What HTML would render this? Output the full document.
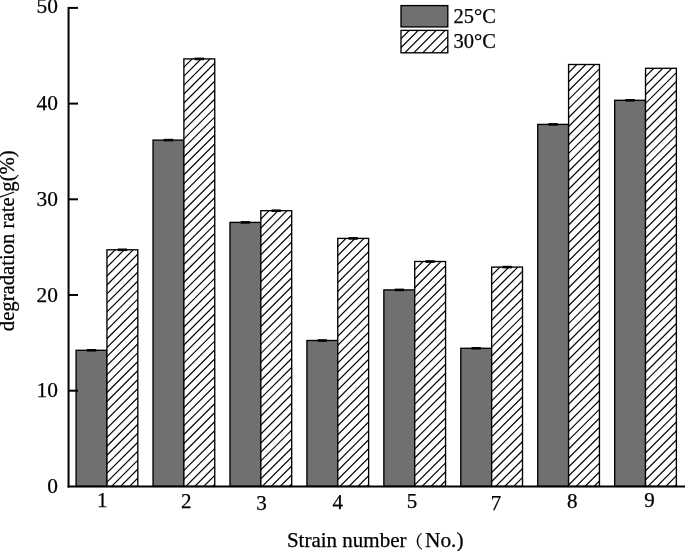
<!DOCTYPE html>
<html><head><meta charset="utf-8"><title>Degradation rate by strain</title>
<style>
html,body{margin:0;padding:0;background:#fff;}
body{width:685px;height:551px;overflow:hidden;}
svg{display:block;}
text{font-family:"Liberation Serif","Noto Serif CJK SC",serif;font-size:21px;fill:#000;}
.lg{font-size:20.5px;}
.yt{font-size:21.4px;}
text{stroke:#000;stroke-width:0.25px;}
</style></head><body>
<svg width="685" height="551" viewBox="0 0 685 551">
<rect x="0" y="0" width="685" height="551" fill="#fff"/>

<rect x="76.10" y="350.30" width="30.85" height="136.10" fill="#707070" stroke="#000" stroke-width="1.35"/>
<rect x="106.95" y="249.80" width="30.85" height="236.60" fill="#fff" stroke="none"/>
<clipPath id="c0"><rect x="106.95" y="249.80" width="30.85" height="236.60"/></clipPath><g clip-path="url(#c0)" stroke="#000" stroke-width="1.2" fill="none"><path d="M105.95 259.10L116.25 248.80M105.95 268.06L125.21 248.80M105.95 277.02L134.17 248.80M105.95 285.98L143.13 248.80M105.95 294.94L152.09 248.80M105.95 303.90L161.05 248.80M105.95 312.86L170.01 248.80M105.95 321.82L178.97 248.80M105.95 330.78L187.93 248.80M105.95 339.74L196.89 248.80M105.95 348.70L205.85 248.80M105.95 357.66L214.81 248.80M105.95 366.62L223.77 248.80M105.95 375.58L232.73 248.80M105.95 384.54L241.69 248.80M105.95 393.50L250.65 248.80M105.95 402.46L259.61 248.80M105.95 411.42L268.57 248.80M105.95 420.38L277.53 248.80M105.95 429.34L286.49 248.80M105.95 438.30L295.45 248.80M105.95 447.26L304.41 248.80M105.95 456.22L313.37 248.80M105.95 465.18L322.33 248.80M105.95 474.14L331.29 248.80M105.95 483.10L340.25 248.80M105.95 492.06L349.21 248.80M105.95 501.02L358.17 248.80M105.95 509.98L367.13 248.80M105.95 518.94L376.09 248.80M105.95 527.90L385.05 248.80"/></g>
<rect x="106.95" y="249.80" width="30.85" height="236.60" fill="none" stroke="#000" stroke-width="1.35"/>
<line x1="86.82" y1="350.30" x2="96.22" y2="350.30" stroke="#000" stroke-width="2.6"/>
<line x1="117.67" y1="249.80" x2="127.07" y2="249.80" stroke="#000" stroke-width="2.6"/>
<rect x="153.04" y="140.10" width="30.85" height="346.30" fill="#707070" stroke="#000" stroke-width="1.35"/>
<rect x="183.89" y="58.90" width="30.85" height="427.50" fill="#fff" stroke="none"/>
<clipPath id="c1"><rect x="183.89" y="58.90" width="30.85" height="427.50"/></clipPath><g clip-path="url(#c1)" stroke="#000" stroke-width="1.2" fill="none"><path d="M182.89 68.20L193.19 57.90M182.89 77.16L202.15 57.90M182.89 86.12L211.11 57.90M182.89 95.08L220.07 57.90M182.89 104.04L229.03 57.90M182.89 113.00L237.99 57.90M182.89 121.96L246.95 57.90M182.89 130.92L255.91 57.90M182.89 139.88L264.87 57.90M182.89 148.84L273.83 57.90M182.89 157.80L282.79 57.90M182.89 166.76L291.75 57.90M182.89 175.72L300.71 57.90M182.89 184.68L309.67 57.90M182.89 193.64L318.63 57.90M182.89 202.60L327.59 57.90M182.89 211.56L336.55 57.90M182.89 220.52L345.51 57.90M182.89 229.48L354.47 57.90M182.89 238.44L363.43 57.90M182.89 247.40L372.39 57.90M182.89 256.36L381.35 57.90M182.89 265.32L390.31 57.90M182.89 274.28L399.27 57.90M182.89 283.24L408.23 57.90M182.89 292.20L417.19 57.90M182.89 301.16L426.15 57.90M182.89 310.12L435.11 57.90M182.89 319.08L444.07 57.90M182.89 328.04L453.03 57.90M182.89 337.00L461.99 57.90M182.89 345.96L470.95 57.90M182.89 354.92L479.91 57.90M182.89 363.88L488.87 57.90M182.89 372.84L497.83 57.90M182.89 381.80L506.79 57.90M182.89 390.76L515.75 57.90M182.89 399.72L524.71 57.90M182.89 408.68L533.67 57.90M182.89 417.64L542.63 57.90M182.89 426.60L551.59 57.90M182.89 435.56L560.55 57.90M182.89 444.52L569.51 57.90M182.89 453.48L578.47 57.90M182.89 462.44L587.43 57.90M182.89 471.40L596.39 57.90M182.89 480.36L605.35 57.90M182.89 489.32L614.31 57.90M182.89 498.28L623.27 57.90M182.89 507.24L632.23 57.90M182.89 516.20L641.19 57.90M182.89 525.16L650.15 57.90"/></g>
<rect x="183.89" y="58.90" width="30.85" height="427.50" fill="none" stroke="#000" stroke-width="1.35"/>
<line x1="163.77" y1="140.10" x2="173.16" y2="140.10" stroke="#000" stroke-width="2.6"/>
<line x1="194.62" y1="58.90" x2="204.01" y2="58.90" stroke="#000" stroke-width="2.6"/>
<rect x="229.98" y="222.40" width="30.85" height="264.00" fill="#707070" stroke="#000" stroke-width="1.35"/>
<rect x="260.83" y="210.70" width="30.85" height="275.70" fill="#fff" stroke="none"/>
<clipPath id="c2"><rect x="260.83" y="210.70" width="30.85" height="275.70"/></clipPath><g clip-path="url(#c2)" stroke="#000" stroke-width="1.2" fill="none"><path d="M259.83 220.00L270.13 209.70M259.83 228.96L279.09 209.70M259.83 237.92L288.05 209.70M259.83 246.88L297.01 209.70M259.83 255.84L305.97 209.70M259.83 264.80L314.93 209.70M259.83 273.76L323.89 209.70M259.83 282.72L332.85 209.70M259.83 291.68L341.81 209.70M259.83 300.64L350.77 209.70M259.83 309.60L359.73 209.70M259.83 318.56L368.69 209.70M259.83 327.52L377.65 209.70M259.83 336.48L386.61 209.70M259.83 345.44L395.57 209.70M259.83 354.40L404.53 209.70M259.83 363.36L413.49 209.70M259.83 372.32L422.45 209.70M259.83 381.28L431.41 209.70M259.83 390.24L440.37 209.70M259.83 399.20L449.33 209.70M259.83 408.16L458.29 209.70M259.83 417.12L467.25 209.70M259.83 426.08L476.21 209.70M259.83 435.04L485.17 209.70M259.83 444.00L494.13 209.70M259.83 452.96L503.09 209.70M259.83 461.92L512.05 209.70M259.83 470.88L521.01 209.70M259.83 479.84L529.97 209.70M259.83 488.80L538.93 209.70M259.83 497.76L547.89 209.70M259.83 506.72L556.85 209.70M259.83 515.68L565.81 209.70M259.83 524.64L574.77 209.70"/></g>
<rect x="260.83" y="210.70" width="30.85" height="275.70" fill="none" stroke="#000" stroke-width="1.35"/>
<line x1="240.71" y1="222.40" x2="250.10" y2="222.40" stroke="#000" stroke-width="2.6"/>
<line x1="271.56" y1="210.70" x2="280.95" y2="210.70" stroke="#000" stroke-width="2.6"/>
<rect x="306.92" y="340.50" width="30.85" height="145.90" fill="#707070" stroke="#000" stroke-width="1.35"/>
<rect x="337.77" y="238.40" width="30.85" height="248.00" fill="#fff" stroke="none"/>
<clipPath id="c3"><rect x="337.77" y="238.40" width="30.85" height="248.00"/></clipPath><g clip-path="url(#c3)" stroke="#000" stroke-width="1.2" fill="none"><path d="M336.77 247.70L347.07 237.40M336.77 256.66L356.03 237.40M336.77 265.62L364.99 237.40M336.77 274.58L373.95 237.40M336.77 283.54L382.91 237.40M336.77 292.50L391.87 237.40M336.77 301.46L400.83 237.40M336.77 310.42L409.79 237.40M336.77 319.38L418.75 237.40M336.77 328.34L427.71 237.40M336.77 337.30L436.67 237.40M336.77 346.26L445.63 237.40M336.77 355.22L454.59 237.40M336.77 364.18L463.55 237.40M336.77 373.14L472.51 237.40M336.77 382.10L481.47 237.40M336.77 391.06L490.43 237.40M336.77 400.02L499.39 237.40M336.77 408.98L508.35 237.40M336.77 417.94L517.31 237.40M336.77 426.90L526.27 237.40M336.77 435.86L535.23 237.40M336.77 444.82L544.19 237.40M336.77 453.78L553.15 237.40M336.77 462.74L562.11 237.40M336.77 471.70L571.07 237.40M336.77 480.66L580.03 237.40M336.77 489.62L588.99 237.40M336.77 498.58L597.95 237.40M336.77 507.54L606.91 237.40M336.77 516.50L615.87 237.40M336.77 525.46L624.83 237.40"/></g>
<rect x="337.77" y="238.40" width="30.85" height="248.00" fill="none" stroke="#000" stroke-width="1.35"/>
<line x1="317.64" y1="340.50" x2="327.04" y2="340.50" stroke="#000" stroke-width="2.6"/>
<line x1="348.50" y1="238.40" x2="357.89" y2="238.40" stroke="#000" stroke-width="2.6"/>
<rect x="383.86" y="289.90" width="30.85" height="196.50" fill="#707070" stroke="#000" stroke-width="1.35"/>
<rect x="414.71" y="261.50" width="30.85" height="224.90" fill="#fff" stroke="none"/>
<clipPath id="c4"><rect x="414.71" y="261.50" width="30.85" height="224.90"/></clipPath><g clip-path="url(#c4)" stroke="#000" stroke-width="1.2" fill="none"><path d="M413.71 270.80L424.01 260.50M413.71 279.76L432.97 260.50M413.71 288.72L441.93 260.50M413.71 297.68L450.89 260.50M413.71 306.64L459.85 260.50M413.71 315.60L468.81 260.50M413.71 324.56L477.77 260.50M413.71 333.52L486.73 260.50M413.71 342.48L495.69 260.50M413.71 351.44L504.65 260.50M413.71 360.40L513.61 260.50M413.71 369.36L522.57 260.50M413.71 378.32L531.53 260.50M413.71 387.28L540.49 260.50M413.71 396.24L549.45 260.50M413.71 405.20L558.41 260.50M413.71 414.16L567.37 260.50M413.71 423.12L576.33 260.50M413.71 432.08L585.29 260.50M413.71 441.04L594.25 260.50M413.71 450.00L603.21 260.50M413.71 458.96L612.17 260.50M413.71 467.92L621.13 260.50M413.71 476.88L630.09 260.50M413.71 485.84L639.05 260.50M413.71 494.80L648.01 260.50M413.71 503.76L656.97 260.50M413.71 512.72L665.93 260.50M413.71 521.68L674.89 260.50"/></g>
<rect x="414.71" y="261.50" width="30.85" height="224.90" fill="none" stroke="#000" stroke-width="1.35"/>
<line x1="394.59" y1="289.90" x2="403.99" y2="289.90" stroke="#000" stroke-width="2.6"/>
<line x1="425.44" y1="261.50" x2="434.84" y2="261.50" stroke="#000" stroke-width="2.6"/>
<rect x="460.80" y="348.30" width="30.85" height="138.10" fill="#707070" stroke="#000" stroke-width="1.35"/>
<rect x="491.65" y="267.10" width="30.85" height="219.30" fill="#fff" stroke="none"/>
<clipPath id="c5"><rect x="491.65" y="267.10" width="30.85" height="219.30"/></clipPath><g clip-path="url(#c5)" stroke="#000" stroke-width="1.2" fill="none"><path d="M490.65 276.40L500.95 266.10M490.65 285.36L509.91 266.10M490.65 294.32L518.87 266.10M490.65 303.28L527.83 266.10M490.65 312.24L536.79 266.10M490.65 321.20L545.75 266.10M490.65 330.16L554.71 266.10M490.65 339.12L563.67 266.10M490.65 348.08L572.63 266.10M490.65 357.04L581.59 266.10M490.65 366.00L590.55 266.10M490.65 374.96L599.51 266.10M490.65 383.92L608.47 266.10M490.65 392.88L617.43 266.10M490.65 401.84L626.39 266.10M490.65 410.80L635.35 266.10M490.65 419.76L644.31 266.10M490.65 428.72L653.27 266.10M490.65 437.68L662.23 266.10M490.65 446.64L671.19 266.10M490.65 455.60L680.15 266.10M490.65 464.56L689.11 266.10M490.65 473.52L698.07 266.10M490.65 482.48L707.03 266.10M490.65 491.44L715.99 266.10M490.65 500.40L724.95 266.10M490.65 509.36L733.91 266.10M490.65 518.32L742.87 266.10M490.65 527.28L751.83 266.10"/></g>
<rect x="491.65" y="267.10" width="30.85" height="219.30" fill="none" stroke="#000" stroke-width="1.35"/>
<line x1="471.52" y1="348.30" x2="480.92" y2="348.30" stroke="#000" stroke-width="2.6"/>
<line x1="502.38" y1="267.10" x2="511.77" y2="267.10" stroke="#000" stroke-width="2.6"/>
<rect x="537.74" y="124.40" width="30.85" height="362.00" fill="#707070" stroke="#000" stroke-width="1.35"/>
<rect x="568.59" y="64.50" width="30.85" height="421.90" fill="#fff" stroke="none"/>
<clipPath id="c6"><rect x="568.59" y="64.50" width="30.85" height="421.90"/></clipPath><g clip-path="url(#c6)" stroke="#000" stroke-width="1.2" fill="none"><path d="M567.59 73.80L577.89 63.50M567.59 82.76L586.85 63.50M567.59 91.72L595.81 63.50M567.59 100.68L604.77 63.50M567.59 109.64L613.73 63.50M567.59 118.60L622.69 63.50M567.59 127.56L631.65 63.50M567.59 136.52L640.61 63.50M567.59 145.48L649.57 63.50M567.59 154.44L658.53 63.50M567.59 163.40L667.49 63.50M567.59 172.36L676.45 63.50M567.59 181.32L685.41 63.50M567.59 190.28L694.37 63.50M567.59 199.24L703.33 63.50M567.59 208.20L712.29 63.50M567.59 217.16L721.25 63.50M567.59 226.12L730.21 63.50M567.59 235.08L739.17 63.50M567.59 244.04L748.13 63.50M567.59 253.00L757.09 63.50M567.59 261.96L766.05 63.50M567.59 270.92L775.01 63.50M567.59 279.88L783.97 63.50M567.59 288.84L792.93 63.50M567.59 297.80L801.89 63.50M567.59 306.76L810.85 63.50M567.59 315.72L819.81 63.50M567.59 324.68L828.77 63.50M567.59 333.64L837.73 63.50M567.59 342.60L846.69 63.50M567.59 351.56L855.65 63.50M567.59 360.52L864.61 63.50M567.59 369.48L873.57 63.50M567.59 378.44L882.53 63.50M567.59 387.40L891.49 63.50M567.59 396.36L900.45 63.50M567.59 405.32L909.41 63.50M567.59 414.28L918.37 63.50M567.59 423.24L927.33 63.50M567.59 432.20L936.29 63.50M567.59 441.16L945.25 63.50M567.59 450.12L954.21 63.50M567.59 459.08L963.17 63.50M567.59 468.04L972.13 63.50M567.59 477.00L981.09 63.50M567.59 485.96L990.05 63.50M567.59 494.92L999.01 63.50M567.59 503.88L1007.97 63.50M567.59 512.84L1016.93 63.50M567.59 521.80L1025.89 63.50"/></g>
<rect x="568.59" y="64.50" width="30.85" height="421.90" fill="none" stroke="#000" stroke-width="1.35"/>
<line x1="548.46" y1="124.40" x2="557.87" y2="124.40" stroke="#000" stroke-width="2.6"/>
<rect x="614.68" y="100.30" width="30.85" height="386.10" fill="#707070" stroke="#000" stroke-width="1.35"/>
<rect x="645.53" y="68.30" width="30.85" height="418.10" fill="#fff" stroke="none"/>
<clipPath id="c7"><rect x="645.53" y="68.30" width="30.85" height="418.10"/></clipPath><g clip-path="url(#c7)" stroke="#000" stroke-width="1.2" fill="none"><path d="M644.53 77.60L654.83 67.30M644.53 86.56L663.79 67.30M644.53 95.52L672.75 67.30M644.53 104.48L681.71 67.30M644.53 113.44L690.67 67.30M644.53 122.40L699.63 67.30M644.53 131.36L708.59 67.30M644.53 140.32L717.55 67.30M644.53 149.28L726.51 67.30M644.53 158.24L735.47 67.30M644.53 167.20L744.43 67.30M644.53 176.16L753.39 67.30M644.53 185.12L762.35 67.30M644.53 194.08L771.31 67.30M644.53 203.04L780.27 67.30M644.53 212.00L789.23 67.30M644.53 220.96L798.19 67.30M644.53 229.92L807.15 67.30M644.53 238.88L816.11 67.30M644.53 247.84L825.07 67.30M644.53 256.80L834.03 67.30M644.53 265.76L842.99 67.30M644.53 274.72L851.95 67.30M644.53 283.68L860.91 67.30M644.53 292.64L869.87 67.30M644.53 301.60L878.83 67.30M644.53 310.56L887.79 67.30M644.53 319.52L896.75 67.30M644.53 328.48L905.71 67.30M644.53 337.44L914.67 67.30M644.53 346.40L923.63 67.30M644.53 355.36L932.59 67.30M644.53 364.32L941.55 67.30M644.53 373.28L950.51 67.30M644.53 382.24L959.47 67.30M644.53 391.20L968.43 67.30M644.53 400.16L977.39 67.30M644.53 409.12L986.35 67.30M644.53 418.08L995.31 67.30M644.53 427.04L1004.27 67.30M644.53 436.00L1013.23 67.30M644.53 444.96L1022.19 67.30M644.53 453.92L1031.15 67.30M644.53 462.88L1040.11 67.30M644.53 471.84L1049.07 67.30M644.53 480.80L1058.03 67.30M644.53 489.76L1066.99 67.30M644.53 498.72L1075.95 67.30M644.53 507.68L1084.91 67.30M644.53 516.64L1093.87 67.30M644.53 525.60L1102.83 67.30"/></g>
<rect x="645.53" y="68.30" width="30.85" height="418.10" fill="none" stroke="#000" stroke-width="1.35"/>
<line x1="625.40" y1="100.30" x2="634.80" y2="100.30" stroke="#000" stroke-width="2.6"/>
<line x1="68.55" y1="6.90" x2="68.55" y2="487.40" stroke="#000" stroke-width="2.0"/>
<line x1="67.55" y1="486.40" x2="685" y2="486.40" stroke="#000" stroke-width="2.0"/>
<text class="yt" x="57.9" y="492.90" text-anchor="end">0</text>
<line x1="68.55" y1="390.70" x2="78" y2="390.70" stroke="#000" stroke-width="2.0"/>
<text class="yt" x="57.9" y="397.20" text-anchor="end">10</text>
<line x1="68.55" y1="295.00" x2="78" y2="295.00" stroke="#000" stroke-width="2.0"/>
<text class="yt" x="57.9" y="301.50" text-anchor="end">20</text>
<line x1="68.55" y1="199.30" x2="78" y2="199.30" stroke="#000" stroke-width="2.0"/>
<text class="yt" x="57.9" y="205.80" text-anchor="end">30</text>
<line x1="68.55" y1="103.60" x2="78" y2="103.60" stroke="#000" stroke-width="2.0"/>
<text class="yt" x="57.9" y="110.10" text-anchor="end">40</text>
<line x1="68.55" y1="7.90" x2="78" y2="7.90" stroke="#000" stroke-width="2.0"/>
<text class="yt" x="57.9" y="13.10" text-anchor="end">50</text>
<text x="102.20" y="506.90" text-anchor="middle">1</text>
<text x="186.20" y="508.10" text-anchor="middle">2</text>
<text x="261.40" y="509.50" text-anchor="middle">3</text>
<text x="337.80" y="509.20" text-anchor="middle">4</text>
<text x="412.00" y="507.80" text-anchor="middle">5</text>
<text x="496.00" y="509.50" text-anchor="middle">7</text>
<text x="572.20" y="508.30" text-anchor="middle">8</text>
<text x="649.40" y="506.90" text-anchor="middle">9</text>
<rect x="401" y="5.6" width="46.8" height="21.3" fill="#707070" stroke="#000" stroke-width="1.35"/>
<rect x="401" y="30.4" width="46.8" height="22.4" fill="#fff" stroke="none"/>
<clipPath id="cl"><rect x="401.00" y="30.40" width="46.80" height="22.40"/></clipPath><g clip-path="url(#cl)" stroke="#000" stroke-width="1.2" fill="none"><path d="M400.00 39.70L410.30 29.40M400.00 48.66L419.26 29.40M400.00 57.62L428.22 29.40M400.00 66.58L437.18 29.40M400.00 75.54L446.14 29.40M400.00 84.50L455.10 29.40M400.00 93.46L464.06 29.40M400.00 102.42L473.02 29.40"/></g>
<rect x="401" y="30.4" width="46.8" height="22.4" fill="none" stroke="#000" stroke-width="1.35"/>
<text class="lg" x="453.5" y="23">25°C</text>
<text class="lg" x="453.5" y="48.4">30°C</text>
<text x="286.9" y="547">Strain number</text>
<text x="405.4" y="547.9" style="font-size:17.5px">（</text>
<text x="425.1" y="547" style="font-size:21.3px">No.)</text>
<text transform="translate(14.2,331.2) rotate(-90)" x="0" y="0" style="font-size:20.7px">degradation rate\g(%)</text>
</svg></body></html>
